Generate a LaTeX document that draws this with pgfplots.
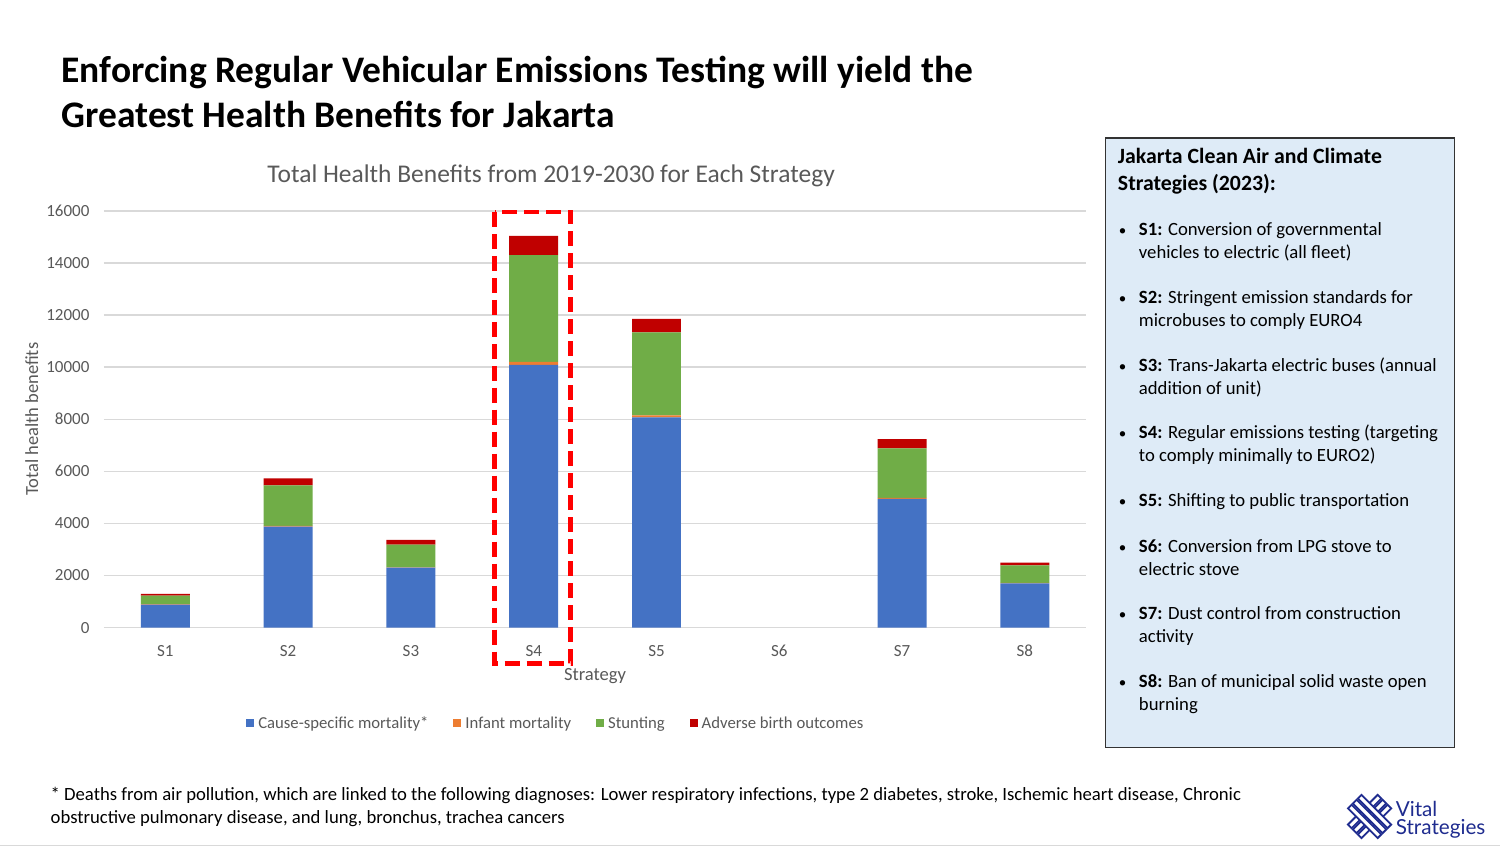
\documentclass[border=0pt]{standalone}
\usepackage{pgfplots}
\pgfplotsset{compat=1.18}
\usepackage{fontspec}
\setmainfont{Carlito}
\newfontfamily\logofont{Lato}
\definecolor{cblue}{HTML}{4472C4}
\definecolor{corange}{HTML}{ED7D31}
\definecolor{cgreen}{HTML}{70AD47}
\definecolor{cred}{HTML}{C00000}
\definecolor{tgray}{HTML}{595959}
\definecolor{ggray}{HTML}{D9D9D9}
\definecolor{boxblue}{HTML}{DEEBF7}
\definecolor{logoblue}{HTML}{1F2C8F}
\newcommand{\fs}[1]{\fontsize{#1}{#1}\selectfont}
\begin{document}
\begin{tikzpicture}
\begin{scope}[x=1pt,y=1pt]
\fill[white] (0,0) rectangle (1500,-848);
\node[anchor=base west, inner sep=0, font=\fs{37.5}\bfseries] at (61,-83) {Enforcing Regular Vehicular Emissions Testing will yield the};
\node[anchor=base west, inner sep=0, font=\fs{37.5}\bfseries] at (61,-128) {Greatest Health Benefits for Jakarta};
\node[anchor=base, inner sep=0, font=\fs{25.5}, text=tgray] at (551,-183) {Total Health Benefits from 2019-2030 for Each Strategy};
\end{scope}

\begin{axis}[
  at={(103.5pt,-628pt)}, anchor=south west,
  scale only axis, width=983pt, height=417pt,
  ybar stacked, bar width=49pt,
  xmin=-0.5, xmax=7.5, ymin=0, ymax=16000,
  xtick={0,...,7}, xticklabels={S1,S2,S3,S4,S5,S6,S7,S8},
  ytick={0,2000,...,16000},
  scaled y ticks=false,
  /pgf/number format/assume math mode=true,
  yticklabel style={/pgf/number format/fixed, /pgf/number format/1000 sep={}, xshift=-11pt},
  xticklabel style={yshift=-14pt},
  tick label style={font=\fs{17}, text=tgray},
  ymajorgrids, grid style={draw=ggray, line width=1.3pt},
  axis line style={draw=none}, major tick length=0pt,
  xlabel={Strategy}, xlabel style={at={(axis description cs:0.5,-0.1175)}, anchor=center, font=\fs{18.6}, text=tgray},
  ylabel={Total health benefits}, ylabel style={at={(axis description cs:-0.0735,0.5)}, anchor=center, rotate=0, font=\fs{18.5}, text=tgray},
  clip=false,
  legend columns=4,
  legend style={at={(axis description cs:0.4595,-0.23)}, anchor=center, draw=none, fill=none, font=\fs{16.7}, text=tgray,
    nodes={inner xsep=1pt},
    /tikz/every even column/.append style={column sep=24pt}},
  legend image code/.code={\fill[#1] (0pt,-4pt) rectangle (8pt,4pt); \path (11pt,0pt);},
]
\addplot[fill=cblue, draw=none] coordinates {(0,880) (1,3880) (2,2300) (3,10090) (4,8070) (5,0) (6,4940) (7,1700)};
\addplot[fill=corange, draw=none] coordinates {(0,20) (1,30) (2,10) (3,115) (4,75) (5,0) (6,40) (7,20)};
\addplot[fill=cgreen, draw=none] coordinates {(0,330) (1,1550) (2,875) (3,4095) (4,3186) (5,0) (6,1900) (7,670)};
\addplot[fill=cred, draw=none] coordinates {(0,60) (1,270) (2,180) (3,742) (4,526) (5,0) (6,360) (7,105)};
\legend{Cause-specific mortality*, Infant mortality, Stunting, Adverse birth outcomes}
\draw[red, line width=4.5pt, dash pattern=on 15pt off 7pt] (axis cs:2.682,15962) rectangle (axis cs:3.301,-1381);
\end{axis}

\begin{scope}[x=1pt,y=1pt]
\draw[draw=black!80, fill=boxblue, line width=1.2pt] (1106,-138) rectangle (1455,-748);
\node[anchor=base west, inner sep=0, font=\fs{21.8}\bfseries] at (1118,-164) {Jakarta Clean Air and Climate};
\node[anchor=base west, inner sep=0, font=\fs{21.8}\bfseries] at (1118,-191) {Strategies (2023):};
\begin{scope}[every node/.style={anchor=base west, inner sep=0, font=\fs{18.7}}]
\foreach \y in {236,304,372,439,507,553,620,688} {\node[font=\fs{15}] at (1119,-\y) {\textbullet};}
\node at (1139,-236) {\textbf{S1:} Conversion of governmental};
\node at (1139,-259) {vehicles to electric (all fleet)};
\node at (1139,-304) {\textbf{S2:} Stringent emission standards for};
\node at (1139,-327) {microbuses to comply EURO4};
\node at (1139,-372) {\textbf{S3:} Trans-Jakarta electric buses (annual};
\node at (1139,-395) {addition of unit)};
\node at (1139,-439) {\textbf{S4:} Regular emissions testing (targeting};
\node at (1139,-462) {to comply minimally to EURO2)};
\node at (1139,-507) {\textbf{S5:} Shifting to public transportation};
\node at (1139,-553) {\textbf{S6:} Conversion from LPG stove to};
\node at (1139,-576) {electric stove};
\node at (1139,-620) {\textbf{S7:} Dust control from construction};
\node at (1139,-643) {activity};
\node at (1139,-688) {\textbf{S8:} Ban of municipal solid waste open};
\node at (1139,-711) {burning};
\node at (50,-801) {* Deaths from air pollution, which are linked to the following diagnoses: Lower respiratory infections, type 2 diabetes, stroke, Ischemic heart disease, Chronic};
\node at (50,-824) {obstructive pulmonary disease, and lung, bronchus, trachea cancers};
\end{scope}
% logo
\begin{scope}[shift={(1370,-817)}]
\foreach \r in {45,-45}{
  \begin{scope}[rotate=\r]
  \foreach \o in {-7,0,7}{\draw[logoblue, line width=1.8pt, fill=white] (-21,\o-2.6) rectangle (21,\o+2.6);}
  \end{scope}}
\end{scope}
\node[anchor=base west, inner sep=0, font=\logofont\fs{20.7}, text=logoblue] at (1396,-817) {Vital};
\node[anchor=base west, inner sep=0, font=\logofont\fs{20.7}, text=logoblue] at (1396,-835) {Strategies};
\draw[ggray, line width=1pt] (0,-846) -- (1500,-846);
\end{scope}
\end{tikzpicture}
\end{document}
